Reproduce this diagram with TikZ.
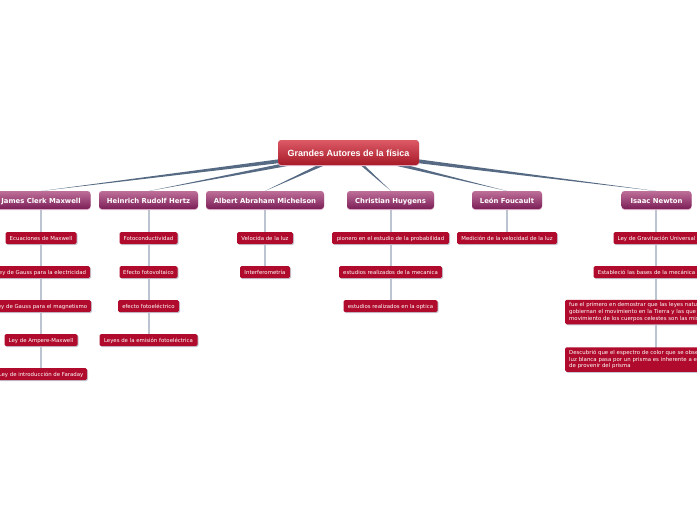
\documentclass[tikz,border=0pt]{standalone}
\usepackage{fontspec}
\setmainfont{DejaVu Sans}
\newfontfamily\rootfont{Liberation Sans}
\usetikzlibrary{calc,shadows}
\definecolor{rootTop}{HTML}{DC5A66}
\definecolor{rootBot}{HTML}{A81A28}
\definecolor{headTop}{HTML}{BE7099}
\definecolor{headBot}{HTML}{7C1E58}
\definecolor{headShade}{HTML}{E4BDD0}
\definecolor{subFill}{HTML}{B00B2C}
\definecolor{subShade}{HTML}{C6CAD6}
\definecolor{branchCol}{HTML}{566A84}
\definecolor{stemCol}{HTML}{BCC3D1}
\tikzset{
    rootnode/.style={rounded corners=3pt, top color=rootTop, bottom color=rootBot, text=white,
        font=\rootfont\bfseries\fontsize{9}{11}\selectfont, minimum height=25pt, minimum width=141pt,
        text height=7.2pt, text depth=0.2pt, inner sep=0pt,
        drop shadow={shadow xshift=0pt, shadow yshift=-1pt, fill=headShade, opacity=1}},
    headnode/.style={rounded corners=3pt, top color=headTop, bottom color=headBot, text=white,
        font=\bfseries\fontsize{6.85}{9}\selectfont, minimum height=18pt, inner sep=0pt,
        text height=6pt, text depth=0pt,
        drop shadow={shadow xshift=0pt, shadow yshift=-1pt, fill=headShade, opacity=1}},
    subnode/.style={rounded corners=1.5pt, fill=subFill, text=white,
        font=\fontsize{5.4}{6.7}\selectfont, minimum height=12pt, inner sep=0pt,
        text height=4.5pt, text depth=0.5pt,
        drop shadow={shadow xshift=1pt, shadow yshift=-1pt, fill=subShade, opacity=1}},
    sublong/.style={subnode, anchor=west, minimum height=24.5pt, text width=174pt, align=left, inner xsep=4pt,
        text height={}, text depth={}},
    stem/.style={stemCol, line width=1.1pt}
}
\begin{document}
\begin{tikzpicture}[x=1pt,y=-1pt]
    \clip (0,0) rectangle (697,520);
    \fill[white] (0,0) rectangle (697,520);

    \coordinate (hub) at (348.5,152.5);
    \coordinate (hubtop) at (348.5,150);
    \coordinate (hubbot) at (348.5,155);
    \coordinate (maxwelltip) at (41,191);
    \coordinate (hertztip) at (149,191);
    \coordinate (michelsontip) at (265,191);
    \coordinate (huygenstip) at (391,191);
    \coordinate (foucaulttip) at (507,191);
    \coordinate (newtontip) at (656,191);

    \foreach \n in {maxwell,hertz,michelson,huygens,foucault,newton} {
        \fill[branchCol] (hubtop) -- (\n tip) -- (hubbot) -- cycle;
    }

    % stems first, the boxes sit on top of them
    \foreach \a/\b in {41/374,149/340,265/272,391/306,507/238,656/360} {
        \path (\a,209) coordinate (s\a) (\a,\b) coordinate (e\a);
        \draw[stem] (s\a) -- (e\a);
    }

    \node[rootnode] (root) at (hub) {Grandes Autores de la física};

    \node[headnode, minimum width=99pt] (maxwell) at (41,200) {James Clerk Maxwell};
    \node[headnode, minimum width=99pt] (hertz) at (148.5,200) {Heinrich Rudolf Hertz};
    \node[headnode, minimum width=118pt] (michelson) at (265,200) {Albert Abraham Michelson};
    \node[headnode, minimum width=87pt] (huygens) at (390.5,200) {Christian Huygens};
    \node[headnode, minimum width=70pt] (foucault) at (507,200) {León Foucault};
    \node[headnode, minimum width=70pt] (newton) at (656.5,200) {Isaac Newton};

    \node[subnode, minimum width=71pt] (m1) at (41,238) {Ecuaciones de Maxwell};
    \node[subnode, minimum width=98pt] (m2) at (41,272) {Ley de Gauss para la electricidad};
    \node[subnode, minimum width=100pt] (m3) at (41,306) {Ley de Gauss para el magnetismo};
    \node[subnode, minimum width=73pt] (m4) at (41,340) {Ley de Ampere-Maxwell};
    \node[subnode, minimum width=92pt] (m5) at (41,374) {Ley de introducción de Faraday};

    \node[subnode, minimum width=58pt] (h1) at (148.5,238) {Fotoconductividad};
    \node[subnode, minimum width=58pt] (h2) at (148.5,272) {Efecto fotovoltaico};
    \node[subnode, minimum width=61pt] (h3) at (148.5,306) {efecto fotoeléctrico};
    \node[subnode, minimum width=98pt] (h4) at (148.5,340) {Leyes de la emisión fotoeléctrica};

    \node[subnode, minimum width=56pt] (a1) at (265,238) {Velocida de la luz};
    \node[subnode, minimum width=50pt] (a2) at (265,272) {Interferometría};

    \node[subnode, minimum width=117pt] (c1) at (390.5,238) {pionero en el estudio de la probabilidad};
    \node[subnode, minimum width=103pt] (c2) at (390.5,272) {estudios realizados de la mecanica};
    \node[subnode, minimum width=94pt] (c3) at (390.5,306) {estudios realizados en la optica};

    \node[subnode, minimum width=100pt] (l1) at (507,238) {Medición de la velocidad de la luz};

    \node[subnode, minimum width=86pt] (n1) at (656.5,238) {Ley de Gravitación Universal};
    \node[subnode, minimum width=126pt] (n2) at (656.5,272) {Estableció las bases de la mecánica clásica};
    \node[sublong] (n3) at (565,312) {fue el primero en demostrar que las leyes naturales\\gobiernan el movimiento en la Tierra y las que rigen el\\movimiento de los cuerpos celestes son las mismas};
    \node[sublong] (n4) at (565,359.5) {Descubrió que el espectro de color que se observa cuando la\\luz blanca pasa por un prisma es inherente a ella, en lugar\\de provenir del prisma};
\end{tikzpicture}
\end{document}
